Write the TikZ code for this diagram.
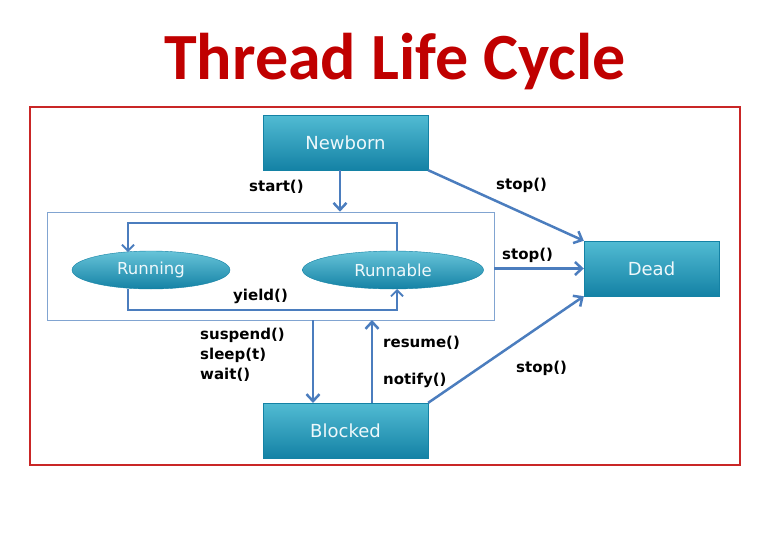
\documentclass[tikz,border=0pt]{standalone}
\usepackage{fontspec}
\setmainfont{DejaVu Sans}
\newfontfamily\titlefont{Carlito}
\usetikzlibrary{arrows.meta,shapes.geometric}
\definecolor{teal1}{RGB}{38,170,200}
\definecolor{teal2}{RGB}{20,130,165}
\definecolor{arr}{RGB}{75,125,190}
\definecolor{dred}{RGB}{192,0,0}
\tikzset{
  st/.style={draw=teal2,top color=teal1!80!white,bottom color=teal2,text=white!92!teal1,font=\fontsize{18}{20}\selectfont,minimum width=165pt,minimum height=55pt,inner sep=0pt},
  el/.style={ellipse,draw=teal2,top color=teal1!70!white,bottom color=teal2,text=white!92!teal1,font=\fontsize{16.5}{18}\selectfont,inner sep=0pt},
  ar/.style={draw=arr,line width=2.5pt,-{Straight Barb[length=7pt,width=13pt]}},
  ln/.style={draw=arr,line width=1.8pt},
  lb/.style={font=\bfseries\fontsize{15}{20}\selectfont,align=left,inner sep=0pt}
}
\begin{document}
\begin{tikzpicture}[x=1pt,y=-1pt]
\useasboundingbox (0,0) rectangle (768,543);
\node[font=\titlefont\bfseries\fontsize{66}{72}\selectfont,text=dred] (title) at (395,62) {Thread Life Cycle};
\draw[dred!85!white,line width=2.5pt] (30,107) rectangle (740,465);
\node[draw=arr!70!white,line width=0.6pt,minimum width=447pt,minimum height=108pt,inner sep=0pt] (inner) at (270.5,266) {};
\node[st] (newborn) at (345.5,142.5) {Newborn};
\node[st,minimum width=135pt] (dead) at (651.5,268.5) {Dead};
\node[st] (blocked) at (345.5,430.5) {Blocked};
\node[el,minimum width=158pt,minimum height=38pt] (running) at (151,270) {Running};
\node[el,minimum width=181pt,minimum height=38pt] (runnable) at (393,270) {Runnable};
\coordinate (s1) at (340,170);
\draw[ar] (s1) -- (s1 |- inner.north);
\draw[ar] (newborn.south east) -- (dead.north west);
\draw[ar] (inner.east |- dead.west) -- (dead.west);
\draw[ar] (blocked.north east) -- (dead.south west);
\coordinate (t1) at (397,223);
\coordinate (t2) at (128,223);
\draw[ln,-{Straight Barb[length=6pt,width=12pt]}] (397,251) -- (t1) -- (t2) -- (128,252);
\draw[ln,-{Straight Barb[length=6pt,width=12pt]}] (128,289) -- (128,310) -- (397,310) -- (397,289);
\draw[ar] (313,320) -- (313,403);
\draw[ar] (372,403) -- (372,320);
\node[lb,anchor=west] (l1) at (249,187) {start()};
\node[lb,anchor=west] (l2) at (496,185) {stop()};
\node[lb,anchor=west] (l3) at (502,255) {stop()};
\node[lb,anchor=west] (l4) at (516,368) {stop()};
\node[lb,anchor=west] (l5) at (233,296) {yield()};
\node[lb,anchor=north west] (l6) at (200,328) {suspend()\\sleep(t)\\wait()};
\node[lb,anchor=west] (l7) at (383,343) {resume()};
\node[lb,anchor=west] (l8) at (383,380) {notify()};
\end{tikzpicture}
\end{document}
